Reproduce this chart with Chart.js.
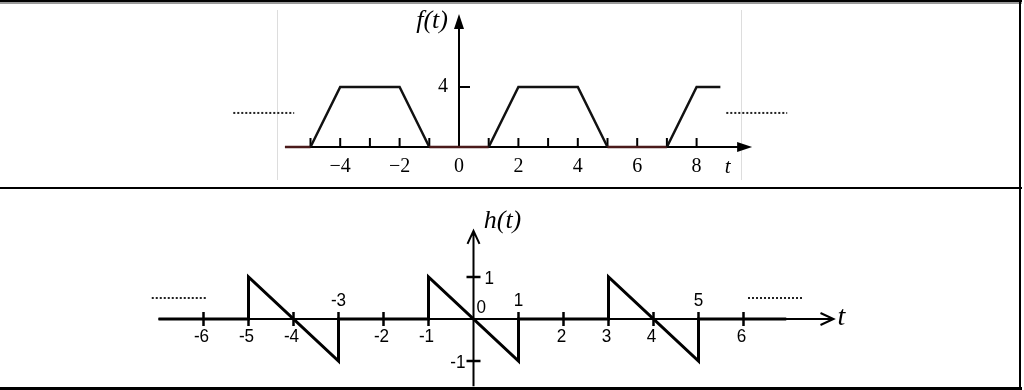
<!DOCTYPE html>
<html>
<head>
<meta charset="utf-8">
<script src="https://cdn.jsdelivr.net/npm/chart.js@4.4.1/dist/chart.umd.min.js"></script>
<style>
  html, body { margin: 0; padding: 0; background: #fff; }
  body { width: 1024px; height: 390px; position: relative; overflow: hidden; }
  canvas { position: absolute; left: 0; }
  #grafF { top: 0; }
  #grafH { top: 190px; }
  .linha { position: absolute; background: #000; }
</style>
</head>
<body>
<!-- bordas da tabela -->
<div class="linha" style="left:0;top:0;width:1022px;height:2px"></div>
<div class="linha" style="left:0;top:2px;width:1022px;height:2px;background:#999"></div>
<div class="linha" style="left:0;top:187px;width:1022px;height:2px"></div>
<div class="linha" style="left:0;top:387px;width:1022px;height:3px"></div>
<div class="linha" style="left:1019px;top:0;width:2px;height:390px"></div>
<!-- bordas claras da figura de cima -->
<div class="linha" style="left:277px;top:10px;width:1px;height:170px;background:#ddd"></div>
<div class="linha" style="left:741px;top:10px;width:1px;height:170px;background:#ddd"></div>

<canvas id="grafF" width="1019" height="187"></canvas>
<canvas id="grafH" width="1019" height="197"></canvas>

<script>
// ---- f(t): trapézio periódico ----
const tempoF = [-5.86, -5, -4, -2, -1, 1, 2, 4, 5, 7, 8, 8.8];
const valoresF = [0, 0, 4, 4, 0, 0, 4, 4, 0, 0, 4, 4];
const ticksF = [-5, -4, -3, -2, -1, 1, 2, 3, 4, 5, 6, 7, 8];
const rotulosF = [-4, -2, 0, 2, 4, 6, 8];
const ticksYF = [4];
const eixoTF = [-5.86, 9.87];   // início e ponta da seta do eixo t
const eixoYF = 8.87;            // ponta da seta do eixo f(t)
const pontEsqF = [-7.6, -5.55];
const pontDirF = [9.0, 11.05];
const nivelPontF = 2.27;

// ---- h(t): dente de serra ----
const tempoH = [-7.0, -5, -5, -3, -3, -1, -1, 1, 1, 3, 3, 5, 5, 6.95];
const valoresH = [0, 0, 1, -1, 0, 0, 1, -1, 0, 0, 1, -1, 0, 0];
const ticksH = [-6, -5, -4, -3, -2, -1, 1, 2, 3, 4, 5, 6];
const rotulosHBaixo = [-6, -5, -4, -2, -1, 2, 3, 4, 6];
const rotulosHCima = [-3, 1, 5];
const ticksYH = [1, -1];
const eixoTH = [-7.0, 8.0];
const eixoYH = [-1.6, 2.1];
const pontEsqH = [-7.15, -5.95];
const pontDirH = [6.1, 7.3];
const nivelPontH = 0.5;

const pares = (xs, ys) => xs.map((x, i) => ({ x: x, y: ys[i] }));
const menos = v => (v < 0 ? '\u2212' + Math.abs(v) : String(v));

// desenha os eixos de f(t) com as escalas do próprio gráfico
const eixosF = {
  id: 'eixosF',
  beforeDatasetsDraw(chart) {
    const { ctx, scales: { x, y } } = chart;
    const x0 = x.getPixelForValue(0), y0 = y.getPixelForValue(0);
    ctx.save();
    ctx.strokeStyle = '#000';
    ctx.fillStyle = '#000';
    ctx.lineWidth = 2;

    // eixo t + seta
    const xs = x.getPixelForValue(eixoTF[1]);
    ctx.beginPath();
    ctx.moveTo(x.getPixelForValue(eixoTF[0]), y0);
    ctx.lineTo(xs - 8, y0);
    ctx.stroke();
    ctx.beginPath();
    ctx.moveTo(xs, y0); ctx.lineTo(xs - 15, y0 - 5); ctx.lineTo(xs - 15, y0 + 5);
    ctx.closePath(); ctx.fill();

    // eixo f(t) + seta
    const ys = y.getPixelForValue(eixoYF);
    ctx.beginPath();
    ctx.moveTo(x0, y0); ctx.lineTo(x0, ys + 8);
    ctx.stroke();
    ctx.beginPath();
    ctx.moveTo(x0, ys); ctx.lineTo(x0 - 5, ys + 15); ctx.lineTo(x0 + 5, ys + 15);
    ctx.closePath(); ctx.fill();

    // marcas
    ticksF.forEach(t => {
      const px = x.getPixelForValue(t);
      ctx.beginPath(); ctx.moveTo(px, y0); ctx.lineTo(px, y0 - 9); ctx.stroke();
    });
    ticksYF.forEach(v => {
      const py = y.getPixelForValue(v);
      ctx.beginPath(); ctx.moveTo(x0, py); ctx.lineTo(x0 + 11, py); ctx.stroke();
    });

    // textos
    ctx.font = '20px "Liberation Serif"';
    ctx.textAlign = 'center';
    ctx.textBaseline = 'middle';
    rotulosF.forEach(t => ctx.fillText(menos(t), x.getPixelForValue(t), y0 + 20));
    ctx.textAlign = 'right';
    ticksYF.forEach(v => ctx.fillText(menos(v), x0 - 11, y.getPixelForValue(v)));
    ctx.font = 'italic 21px "Liberation Serif"';
    ctx.textAlign = 'center';
    ctx.fillText('t', x.getPixelForValue(9.05), y0 + 20);
    ctx.font = 'italic 26px "Liberation Serif"';
    ctx.textAlign = 'right';
    ctx.fillText('f(t)', x0 - 11, ys + 7);
    ctx.restore();
  }
};

// desenha os eixos de h(t)
const eixosH = {
  id: 'eixosH',
  beforeDatasetsDraw(chart) {
    const { ctx, scales: { x, y } } = chart;
    const x0 = x.getPixelForValue(0), y0 = y.getPixelForValue(0);
    ctx.save();
    ctx.strokeStyle = '#000';
    ctx.fillStyle = '#000';
    ctx.lineWidth = 2;

    // eixo t com seta aberta
    const xs = x.getPixelForValue(eixoTH[1]);
    ctx.beginPath();
    ctx.moveTo(x.getPixelForValue(eixoTH[0]), y0); ctx.lineTo(xs, y0);
    ctx.moveTo(xs - 13, y0 - 6); ctx.lineTo(xs, y0); ctx.lineTo(xs - 13, y0 + 6);
    ctx.stroke();

    // eixo h(t) com seta aberta
    const ys = y.getPixelForValue(eixoYH[1]);
    ctx.beginPath();
    ctx.moveTo(x0, y.getPixelForValue(eixoYH[0])); ctx.lineTo(x0, ys);
    ctx.moveTo(x0 - 6, ys + 13); ctx.lineTo(x0, ys); ctx.lineTo(x0 + 6, ys + 13);
    ctx.stroke();

    // marcas cruzando os eixos
    ctx.lineWidth = 2.5;
    ticksH.forEach(t => {
      const px = x.getPixelForValue(t);
      ctx.beginPath(); ctx.moveTo(px, y0 - 7); ctx.lineTo(px, y0 + 7); ctx.stroke();
    });
    ticksYH.forEach(v => {
      const py = y.getPixelForValue(v);
      ctx.beginPath(); ctx.moveTo(x0 - 7, py); ctx.lineTo(x0 + 7, py); ctx.stroke();
    });

    // textos (fonte estreita: escala horizontal)
    const texto = (s, px, py, alinh) => {
      ctx.save();
      ctx.translate(px, py);
      ctx.scale(0.9, 1);
      ctx.textAlign = alinh;
      ctx.fillText(s, 0, 0);
      ctx.restore();
    };
    ctx.font = '19px "Liberation Sans"';
    ctx.textBaseline = 'middle';
    rotulosHBaixo.forEach(t => texto(String(t), x.getPixelForValue(t) - 2, y0 + 18, 'center'));
    rotulosHCima.forEach(t => texto(String(t), x.getPixelForValue(t), y0 - 18, 'center'));
    texto('0', x0 + 3, y0 - 11, 'left');
    texto('1', x0 + 11, y.getPixelForValue(1) + 2, 'left');
    texto('-1', x0 - 8, y.getPixelForValue(-1) + 2, 'right');

    ctx.font = 'italic 28px "Liberation Serif"';
    ctx.textAlign = 'left';
    ctx.fillText('t', xs + 4, y0 - 1);
    ctx.font = 'italic 26px "Liberation Serif"';
    ctx.textAlign = 'center';
    ctx.fillText('h(t)', x0 + 29, ys - 10);
    ctx.restore();
  }
};

function pontilhado(xs, nivel) {
  return {
    data: pares(xs, [nivel, nivel]),
    borderColor: '#222',
    borderWidth: 2,
    borderDash: [2, 2],
    pointRadius: 0
  };
}

function criarGrafico(id, datasets, limX, limY, plugin) {
  return new Chart(document.getElementById(id).getContext('2d'), {
    type: 'line',
    data: { datasets: datasets },
    options: {
      responsive: false,
      animation: false,
      events: [],
      layout: { padding: 0 },
      plugins: { legend: { display: false }, tooltip: { enabled: false } },
      scales: {
        x: { type: 'linear', min: limX[0], max: limX[1], display: false },
        y: { type: 'linear', min: limY[0], max: limY[1], display: false }
      }
    },
    plugins: [plugin]
  });
}

// escala: t=0 em x=459, 29.7 px por unidade; f=0 em y=147, 15 px por unidade
criarGrafico('grafF', [
  {
    data: pares(tempoF, valoresF),
    borderColor: '#111',
    borderWidth: 2.5,
    pointRadius: 0,
    segment: {
      borderColor: c => (c.p0.parsed.y === 0 && c.p1.parsed.y === 0 ? '#4a1a1a' : '#111')
    }
  },
  pontilhado(pontEsqF, nivelPontF),
  pontilhado(pontDirF, nivelPontF)
], [-459 / 29.7, (1019 - 459) / 29.7], [(147 - 187) / 15, 147 / 15], eixosF);

// escala: t=0 em x=473.5, 45 px por unidade; h=0 em y=129 (no canvas), 42 px por unidade
criarGrafico('grafH', [
  {
    data: pares(tempoH, valoresH),
    borderColor: '#000',
    borderWidth: 3,
    pointRadius: 0
  },
  pontilhado(pontEsqH, nivelPontH),
  pontilhado(pontDirH, nivelPontH)
], [-473.5 / 45, (1019 - 473.5) / 45], [(129 - 197) / 42, 129 / 42], eixosH);
</script>
</body>
</html>
